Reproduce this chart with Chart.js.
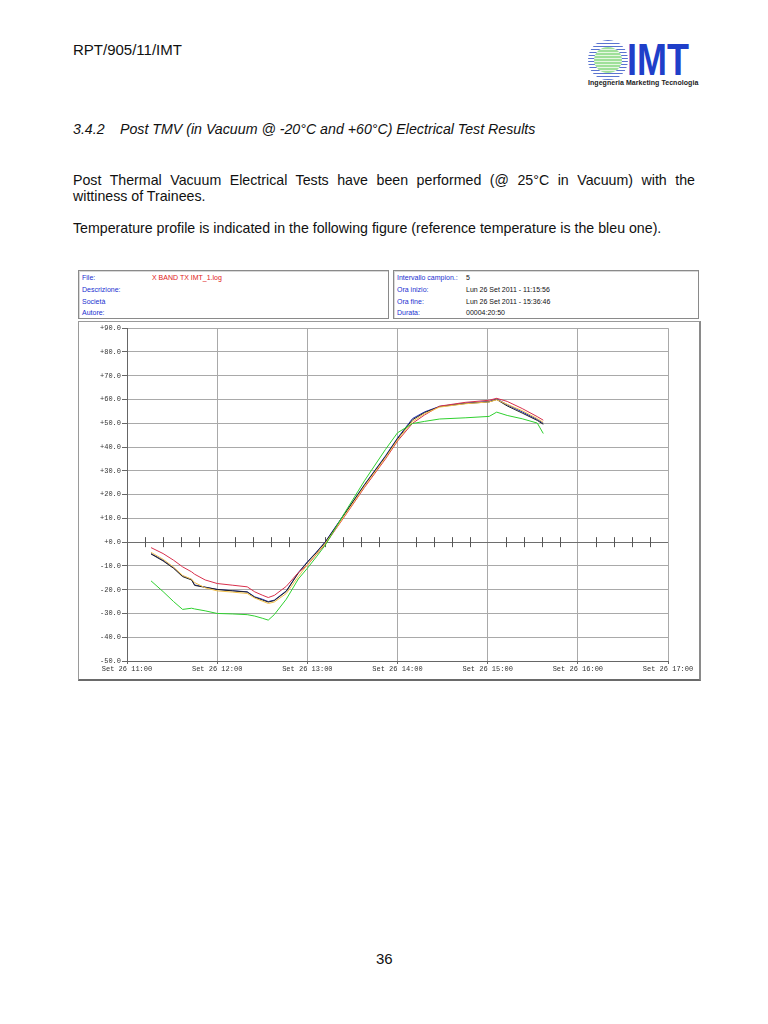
<!DOCTYPE html>
<html>
<head>
<meta charset="utf-8">
<title>RPT/905/11/IMT - 3.4.2</title>
<script src="https://cdn.jsdelivr.net/npm/chart.js@4.4.1/dist/chart.umd.min.js"></script>
<style>
    body { margin: 0; width: 768px; height: 1024px; background: #fff; position: relative; font-family: "Liberation Sans", Arial, sans-serif; color: #111; overflow: hidden; }
    .abs { position: absolute; white-space: nowrap; }
    .txt { font-size: 14.2px; line-height: 17px; }
    .just { position: absolute; left: 73px; width: 622px; font-size: 14.2px; line-height: 17px; text-align: justify; text-align-last: justify; white-space: nowrap; }
    .logo-ball { position: absolute; left: 588px; top: 40px; width: 40px; height: 40px; border-radius: 50%;
        background: repeating-linear-gradient(to bottom, #5a74d0 0 1px, #ffffff 1px 3px); }
    .logo-core { position: absolute; left: 6px; top: 7px; width: 28px; height: 26px; border-radius: 50%;
        background: repeating-linear-gradient(to bottom, #9fe09a 0 2px, #e6f7e2 2px 3px); }
    .logo-imt { position: absolute; left: 627px; top: 36px; font-size: 45px; line-height: 48px; font-weight: bold; color: #1f3fc9; transform: scaleX(0.8); transform-origin: left top; }
    .logo-sub { position: absolute; left: 588px; top: 79px; font-size: 7px; font-weight: bold; color: #222; letter-spacing: 0.05px; }
    .box { position: absolute; top: 270px; height: 47px; border: 1px solid #8a8a8a; box-shadow: inset 1px 1px 0 #d8d8d8; font-size: 7px; }
    .box div { position: absolute; white-space: nowrap; }
    .lbl { color: #1a2fd0; }
    .frame { position: absolute; left: 78px; top: 321px; width: 620px; height: 357px; border: 1px solid #9a9a9a; border-bottom: 2px solid #6a6a6a; border-right: 2px solid #8a8a8a; }
    #chart { position: absolute; left: 79px; top: 323px; }
</style>
</head>
<body>

<div class="abs txt" style="left:73px; top:41px; font-size:15px;">RPT/905/11/IMT</div>

<div class="logo-ball"><div class="logo-core"></div></div>
<div class="logo-imt">IMT</div>
<div class="logo-sub">Ingegneria Marketing Tecnologia</div>

<div class="abs txt" style="left:73px; top:121px; font-style:italic;">3.4.2</div>
<div class="abs txt" style="left:120px; top:121px; font-style:italic;">Post TMV (in Vacuum @ -20°C and +60°C) Electrical Test Results</div>

<div class="just" style="top:172px;">Post Thermal Vacuum Electrical Tests have been performed (@ 25°C in Vacuum) with the</div>
<div class="abs txt" style="left:73px; top:188px;">wittiness of Trainees.</div>
<div class="abs txt" style="left:73px; top:220px;">Temperature profile is indicated in the following figure (reference temperature is the bleu one).</div>

<!-- riquadri informazioni del file di log -->
<div class="box" style="left:78px; width:309px;">
    <div class="lbl" style="left:3px; top:3px;">File:</div>
    <div style="left:73px; top:3px; color:#e02020;">X BAND TX IMT_1.log</div>
    <div class="lbl" style="left:3px; top:15px;">Descrizione:</div>
    <div class="lbl" style="left:3px; top:27px;">Società</div>
    <div class="lbl" style="left:3px; top:38px;">Autore:</div>
</div>
<div class="box" style="left:393px; width:304px;">
    <div class="lbl" style="left:3px; top:3px;">Intervallo campion.:</div>
    <div style="left:72px; top:3px;">5</div>
    <div class="lbl" style="left:3px; top:15px;">Ora inizio:</div>
    <div style="left:72px; top:15px;">Lun 26 Set 2011 - 11:15:56</div>
    <div class="lbl" style="left:3px; top:27px;">Ora fine:</div>
    <div style="left:72px; top:27px;">Lun 26 Set 2011 - 15:36:46</div>
    <div class="lbl" style="left:3px; top:38px;">Durata:</div>
    <div style="left:72px; top:38px;">00004:20:50</div>
</div>

<div class="frame"></div>
<canvas id="chart" width="620" height="356"></canvas>

<div class="abs txt" style="left:376px; top:950px; font-size:15px;">36</div>

<script>
    // minuti dalle 11:00
    var timeMin = [16, 24, 31, 37, 43, 45, 52, 60, 70, 80, 85, 90, 94, 98, 106, 114, 120, 126, 132, 145, 158, 172, 180, 190, 198, 208, 225, 241, 246, 253, 263, 273, 277];

    // temperature (°C)
    var tBlue = [-4.8, -7.6, -10.8, -14.2, -15.7, -18.0, -18.9, -19.9, -20.4, -20.9, -23.0, -24.0, -25.0, -24.4, -20.5, -12.8, -8.3, -4.2, 0.2, 12.2, 24.2, 36.3, 43.8, 52.0, 54.8, 57.1, 58.5, 59.2, 60.3, 57.8, 54.8, 51.6, 50.0];
    var tBlack = [-5.0, -7.9, -11.0, -14.5, -15.9, -18.2, -19.0, -19.9, -20.5, -21.0, -23.2, -24.3, -25.2, -24.6, -20.7, -13.0, -8.5, -4.4, 0.0, 12.0, 24.0, 36.0, 43.5, 51.5, 54.5, 57.0, 58.3, 59.0, 60.0, 57.3, 54.3, 51.2, 49.6];
    var tRed = [-2.3, -4.8, -7.6, -10.4, -12.5, -13.5, -15.9, -17.4, -18.1, -18.8, -20.9, -22.3, -23.3, -22.4, -18.6, -12.8, -9.7, -5.2, -0.8, 11.0, 23.0, 35.0, 42.5, 50.0, 53.5, 57.2, 58.8, 59.7, 60.5, 59.2, 56.2, 52.8, 51.3];
    var tYellow = [-4.3, -7.2, -10.5, -14.0, -15.6, -17.0, -19.2, -20.5, -21.0, -21.6, -23.5, -24.8, -25.8, -25.2, -21.6, -14.5, -9.5, -5.0, -0.5, 11.3, 23.5, 35.5, 43.0, 50.8, 54.0, 56.8, 58.2, 59.0, 59.9, 58.0, 55.3, 52.0, 50.4];
    var tGreen = [-16.3, -20.8, -25.0, -28.3, -27.8, -28.1, -28.9, -30.0, -30.2, -30.5, -31.1, -32.0, -32.8, -30.5, -24.0, -15.5, -11.0, -6.2, -1.2, 12.5, 25.8, 39.0, 46.0, 49.9, 50.8, 51.8, 52.3, 52.9, 54.7, 53.3, 51.9, 50.1, 45.7];

    var xHours = [11, 12, 13, 14, 15, 16, 17];
    var yTicks = [90, 80, 70, 60, 50, 40, 30, 20, 10, 0, -10, -20, -30, -40, -50];

    function pts(arr) {
        return timeMin.map(function (t, i) { return { x: t, y: arr[i] }; });
    }

    function serie(arr, color) {
        return { data: pts(arr), borderColor: color, borderWidth: 1, pointRadius: 0, tension: 0, fill: false };
    }

    // tacche minori ogni 12 minuti sulla linea dello zero
    var zeroTicks = {
        id: 'zeroTicks',
        beforeDatasetsDraw: function (chart) {
            var ctx = chart.ctx, xs = chart.scales.x, ys = chart.scales.y;
            var y0 = ys.getPixelForValue(0);
            ctx.save();
            ctx.strokeStyle = '#555';
            ctx.lineWidth = 1;
            for (var m = xs.min; m <= xs.max; m += 12) {
                if (m % 60 === 0) continue;
                var px = Math.round(xs.getPixelForValue(m)) + 0.5;
                ctx.beginPath();
                ctx.moveTo(px, y0 - 5);
                ctx.lineTo(px, y0 + 5);
                ctx.stroke();
            }
            ctx.restore();
        }
    };

    var monoFont = { family: '"Liberation Mono", "DejaVu Sans Mono", monospace', size: 7 };

    new Chart(document.getElementById('chart').getContext('2d'), {
        type: 'line',
        data: {
            datasets: [
                serie(tGreen, '#2fd02f'),
                serie(tYellow, '#f2c04a'),
                serie(tRed, '#d8304c'),
                serie(tBlack, '#222222'),
                serie(tBlue, '#2634b8')
            ]
        },
        options: {
            responsive: false,
            animation: false,
            layout: { padding: { top: 5, right: 31, left: 0, bottom: 0 } },
            plugins: { legend: { display: false }, tooltip: { enabled: false } },
            scales: {
                x: {
                    type: 'linear',
                    min: (xHours[0] - 11) * 60,
                    max: (xHours[xHours.length - 1] - 11) * 60,
                    afterBuildTicks: function (s) {
                        s.ticks = xHours.map(function (h) { return { value: (h - 11) * 60 }; });
                    },
                    afterFit: function (s) { s.height = 18; },
                    ticks: {
                        autoSkip: false, maxRotation: 0, padding: 1, color: '#333', font: monoFont,
                        callback: function (v) { return 'Set 26 ' + (11 + v / 60) + ':00'; }
                    },
                    grid: { color: '#a9a9a9', tickLength: 3, tickColor: '#666' },
                    border: { color: '#666' }
                },
                y: {
                    min: -50,
                    max: 90,
                    afterBuildTicks: function (s) {
                        s.ticks = yTicks.map(function (v) { return { value: v }; });
                    },
                    afterFit: function (s) { s.width = 48; },
                    ticks: {
                        padding: 1, color: '#333', font: monoFont,
                        callback: function (v) { return (v >= 0 ? '+' : '') + v.toFixed(1); }
                    },
                    grid: {
                        tickLength: 5, tickColor: '#666',
                        color: function (c) { return c.tick && c.tick.value === 0 ? '#6e6e6e' : '#a9a9a9'; }
                    },
                    border: { color: '#666' }
                }
            }
        },
        plugins: [zeroTicks]
    });
</script>
</body>
</html>
